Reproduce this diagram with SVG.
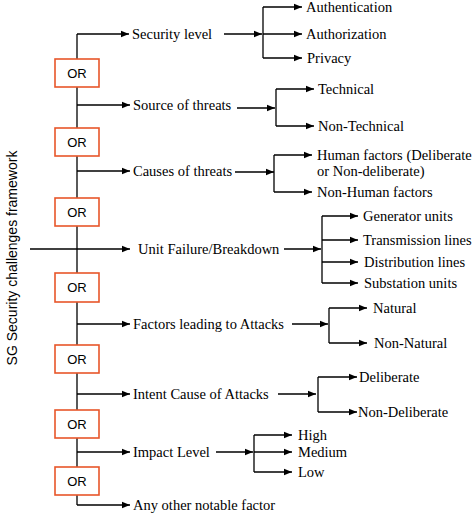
<svg xmlns="http://www.w3.org/2000/svg" width="474" height="513" viewBox="0 0 474 513">
<defs>
<marker id="ah" markerUnits="userSpaceOnUse" markerWidth="9" markerHeight="8" refX="8" refY="4" orient="auto">
<path d="M0,0.8 L8,4 L0,7.2 Z" fill="#000"/>
</marker>
<style>
.c{fill:none;stroke:#000;stroke-width:1.3}
.a{marker-end:url(#ah)}
.t{font-family:"Liberation Serif","Times New Roman",serif;font-size:14.5px;fill:#000}
.or rect{fill:#fff;stroke:#E8562A;stroke-width:1.6}
.or text{font-family:"Liberation Sans",Arial,sans-serif;font-size:13px;fill:#000;text-anchor:middle}
.side{font-family:"Liberation Sans",Arial,sans-serif;font-size:14px;fill:#000;text-anchor:middle}
</style>
</defs>
<rect width="474" height="513" fill="#fff"/>
<g id="connectors">
<path class="c" d="M77,34 V505"/>
<path class="c a" d="M77,34 H129"/>
<path class="c a" d="M77,105 H130"/>
<path class="c a" d="M77,171 H130"/>
<path class="c a" d="M30,249 H130"/>
<path class="c a" d="M77,324 H130"/>
<path class="c a" d="M77,394 H130"/>
<path class="c a" d="M77,452 H130"/>
<path class="c a" d="M77,505 H130"/>
<path class="c a" d="M224,34 H262"/>
<path class="c" d="M263,7 V58"/>
<path class="c a" d="M263,7 H302"/>
<path class="c a" d="M263,34 H302"/>
<path class="c a" d="M263,58 H302"/>
<path class="c a" d="M237,108 H275"/>
<path class="c" d="M276,89 V126"/>
<path class="c a" d="M276,89 H314"/>
<path class="c a" d="M276,126 H314"/>
<path class="c a" d="M235,172 H274"/>
<path class="c" d="M274,155 V192"/>
<path class="c a" d="M274,155 H312"/>
<path class="c a" d="M274,192 H312"/>
<path class="c a" d="M284,249 H321"/>
<path class="c" d="M322,216 V283"/>
<path class="c a" d="M322,216 H358"/>
<path class="c a" d="M322,240 H358"/>
<path class="c a" d="M322,262 H358"/>
<path class="c a" d="M322,283 H358"/>
<path class="c a" d="M292,324 H328"/>
<path class="c" d="M329,308 V343"/>
<path class="c a" d="M329,308 H367"/>
<path class="c a" d="M329,343 H367"/>
<path class="c a" d="M278,394 H316"/>
<path class="c" d="M318,377 V412"/>
<path class="c a" d="M318,377 H357"/>
<path class="c a" d="M318,412 H357"/>
<path class="c a" d="M216,452 H253"/>
<path class="c" d="M254,435 V472"/>
<path class="c a" d="M254,435 H292"/>
<path class="c a" d="M254,452 H292"/>
<path class="c a" d="M254,472 H292"/>
</g>
<g id="or1" class="or"><rect x="55" y="59" width="44" height="28"/><text x="77" y="78">OR</text></g>
<g id="or2" class="or"><rect x="55" y="128" width="44" height="28"/><text x="77" y="147">OR</text></g>
<g id="or3" class="or"><rect x="55" y="198" width="44" height="28"/><text x="77" y="217">OR</text></g>
<g id="or4" class="or"><rect x="55" y="273" width="44" height="29"/><text x="77" y="292">OR</text></g>
<g id="or5" class="or"><rect x="55" y="345" width="44" height="28"/><text x="77" y="364">OR</text></g>
<g id="or6" class="or"><rect x="55" y="410" width="44" height="28"/><text x="77" y="429">OR</text></g>
<g id="or7" class="or"><rect x="55" y="467" width="44" height="28"/><text x="77" y="486">OR</text></g>
<g id="root"><text class="side" transform="translate(17,258) rotate(-90)">SG Security challenges framework</text></g>
<g id="security"><text class="t" x="132" y="39">Security level</text></g>
<g id="authentication"><text class="t" x="306" y="12">Authentication</text></g>
<g id="authorization"><text class="t" x="306" y="39">Authorization</text></g>
<g id="privacy"><text class="t" x="307" y="63">Privacy</text></g>
<g id="source"><text class="t" x="133" y="110">Source of threats</text></g>
<g id="technical"><text class="t" x="318" y="94">Technical</text></g>
<g id="nontechnical"><text class="t" x="318" y="131">Non-Technical</text></g>
<g id="causes"><text class="t" x="133" y="176">Causes of threats</text></g>
<g id="human"><text class="t" x="317" y="160">Human factors (Deliberate</text><text class="t" x="317" y="175.5">or Non-deliberate)</text></g>
<g id="nonhuman"><text class="t" x="317" y="197">Non-Human factors</text></g>
<g id="unit"><text class="t" x="138" y="254">Unit Failure/Breakdown</text></g>
<g id="generator"><text class="t" x="363" y="221">Generator units</text></g>
<g id="transmission"><text class="t" x="363" y="245">Transmission lines</text></g>
<g id="distribution"><text class="t" x="364" y="267">Distribution lines</text></g>
<g id="substation"><text class="t" x="364" y="288">Substation units</text></g>
<g id="factors"><text class="t" x="133" y="329">Factors leading to Attacks</text></g>
<g id="natural"><text class="t" x="373" y="313">Natural</text></g>
<g id="nonnatural"><text class="t" x="374" y="348">Non-Natural</text></g>
<g id="intent"><text class="t" x="133" y="399">Intent Cause of Attacks</text></g>
<g id="deliberate"><text class="t" x="359" y="382">Deliberate</text></g>
<g id="nondeliberate"><text class="t" x="358" y="417">Non-Deliberate</text></g>
<g id="impact"><text class="t" x="133" y="457">Impact Level</text></g>
<g id="high"><text class="t" x="298" y="440">High</text></g>
<g id="medium"><text class="t" x="298" y="457">Medium</text></g>
<g id="low"><text class="t" x="298" y="477">Low</text></g>
<g id="other"><text class="t" x="133" y="510">Any other notable factor</text></g>
</svg>
